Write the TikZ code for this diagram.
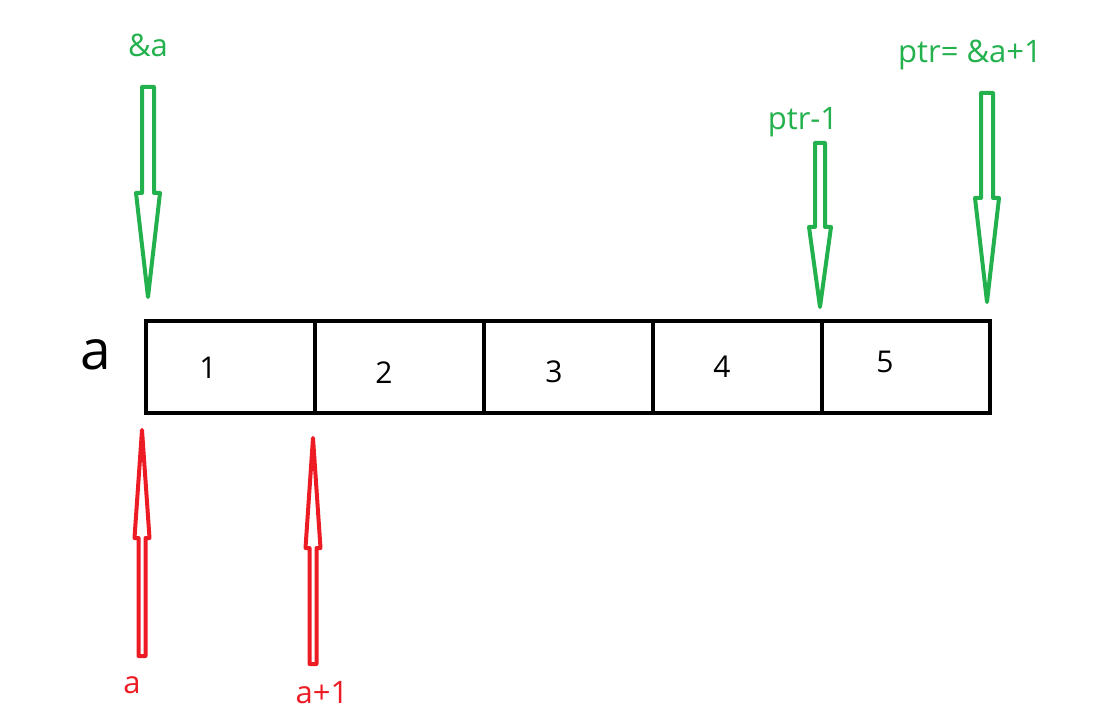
\documentclass[tikz,border=0pt]{standalone}
\usepackage{fontspec}
\setmainfont{Open Sans}
\definecolor{pgreen}{RGB}{34,177,76}
\definecolor{pred}{RGB}{237,28,36}
\newcommand\ptrarrow[6]{%
  \draw[#1] (#2) -- ++({-#4},{-(#3)}) -- ++({#4-#5},0) -- ++(0,{-(#6)})
    -- ++({2*#5},0) -- ++(0,{#6}) -- ++({#4-#5},0) -- cycle;}
\tikzset{
  cell/.style={draw=black, line width=4pt, minimum height=92pt, inner sep=0pt, outer sep=0pt},
  digit/.style={anchor=base, inner sep=0pt, font=\fontsize{30}{36}\selectfont},
  lab/.style={anchor=base, inner sep=0pt, font=\fontsize{31}{36}\selectfont},
  garrow/.style={draw=pgreen, line width=4pt, line join=round},
  rarrow/.style={draw=pred, line width=4pt, line join=round},
}
\begin{document}
\begin{tikzpicture}[x=1pt,y=-1pt]
\useasboundingbox (0,0) rectangle (1097,727);
% cells
\node[cell, minimum width=169pt] (c1) at (230.5,367) {};
\node[cell, minimum width=169pt] (c2) at (399.5,367) {};
\node[cell, minimum width=169pt] (c3) at (568.5,367) {};
\node[cell, minimum width=169pt] (c4) at (737.5,367) {};
\node[cell, minimum width=168pt] (c5) at (906,367) {};
% digits
\node[digit] (d1) at (208,378) {1};
\node[digit] (d2) at (384,383) {2};
\node[digit] (d3) at (554,382) {3};
\node[digit] (d4) at (722,377) {4};
\node[digit] (d5) at (885,372) {5};
% array name
\node[anchor=base, inner sep=0pt, font=\fontsize{55}{60}\selectfont] (name) at (96,369) {a};
% green labels
\node[lab, text=pgreen] (lamp) at (148,57) {\&a};
\node[lab, text=pgreen] (lptrm) at (803,130) {ptr-1};
\node[lab, text=pgreen] (lptr) at (970,63) {ptr= \&a+1};
% red labels
\node[lab, text=pred] (la) at (132,693) {a};
\node[lab, text=pred] (la1) at (322,703) {a+1};
% arrow tips
\coordinate (tamp) at (148,297);
\coordinate (tptrm) at (820,307);
\coordinate (tptr) at (987,302);
\coordinate (ta) at (142,430);
\coordinate (ta1) at (313,438);
\ptrarrow{garrow}{tamp}{104}{12}{6}{106}
\ptrarrow{garrow}{tptrm}{80}{11}{5}{84}
\ptrarrow{garrow}{tptr}{104}{12}{6}{105}
\ptrarrow{rarrow}{ta}{-108}{7.5}{3.5}{-118}
\ptrarrow{rarrow}{ta1}{-110}{7.5}{3.5}{-116}
\end{tikzpicture}
\end{document}
